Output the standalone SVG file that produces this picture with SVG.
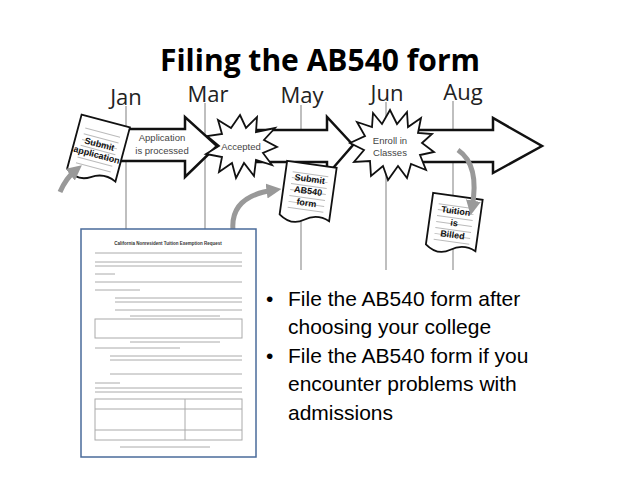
<svg xmlns="http://www.w3.org/2000/svg" width="638" height="479" viewBox="0 0 638 479">
<style>
.m{font-family:"Open Sans","Liberation Sans",sans-serif;font-size:22px;fill:#222}
.vl{stroke:#aaa;stroke-width:1.5}
.ar{fill:#fff;stroke:#111;stroke-width:2.5;stroke-linejoin:miter}
.st{fill:#fff;stroke:#111;stroke-width:1.8}
.lb{font-family:"Liberation Sans",sans-serif;font-size:9.5px;fill:#444;text-anchor:middle}
.dl{stroke:#bbb;stroke-width:1}
.doc{fill:#fff;stroke:#111;stroke-width:1.8}
.dt{font-family:"Liberation Sans",sans-serif;font-weight:bold;font-size:9px;fill:#111;text-anchor:middle}
.ga{fill:none;stroke:#999;stroke-width:5}
.b{font-family:"Liberation Sans",sans-serif;font-size:21px;fill:#000}
.fl{stroke:#aaa;stroke-width:1}
</style>
<defs>
<marker id="h" viewBox="0 0 10 10" refX="5" refY="5" markerWidth="3" markerHeight="3" orient="auto"><path d="M0,0L10,5L0,10z" fill="#999"/></marker>
<g id="lines"><line class="dl" x1="-18" y1="-18" x2="18" y2="-18"/><line class="dl" x1="-18" y1="-12" x2="18" y2="-12"/><line class="dl" x1="-18" y1="-6" x2="18" y2="-6"/><line class="dl" x1="-18" y1="0" x2="18" y2="0"/><line class="dl" x1="-18" y1="6" x2="18" y2="6"/><line class="dl" x1="-18" y1="12" x2="18" y2="12"/><line class="dl" x1="-18" y1="18" x2="18" y2="18"/></g>
</defs>
<rect width="638" height="479" fill="#fff"/>
<text x="320" y="71" text-anchor="middle" font-family="Open Sans,Liberation Sans,sans-serif" font-weight="bold" font-size="30" fill="#000">Filing the AB540 form</text>
<g id="months">
<text class="m" x="126" y="105" text-anchor="middle">Jan</text>
<text class="m" x="208" y="102" text-anchor="middle">Mar</text>
<text class="m" x="302" y="103" text-anchor="middle">May</text>
<text class="m" x="387" y="101" text-anchor="middle">Jun</text>
<text class="m" x="463" y="100" text-anchor="middle">Aug</text>
<line class="vl" x1="126" y1="106" x2="126" y2="230"/>
<line class="vl" x1="205" y1="103" x2="205" y2="230"/>
<line class="vl" x1="301" y1="105" x2="301" y2="270"/>
<line class="vl" x1="386" y1="102" x2="386" y2="270"/>
<line class="vl" x1="453" y1="101" x2="453" y2="270"/>
</g>
<g id="arrows">
<path class="ar" d="M118,129H185V117L217,146L185,177V161H118z"/>
<path class="ar" d="M257,130H327V117L353,145L327,175V162H257z"/>
<path class="ar" d="M417,130H493V118L542,146L493,173V162H417z"/>
<text class="lb" x="162" y="141">Application</text>
<text class="lb" x="162" y="154">is processed</text>
</g>
<g id="accepted">
<path class="st" d="M240,115L246,128L257,117L256,132L275,128L264,140L277,147L263,153L272,165L256,160L254,176L244,163L236,178L232,163L219,172L222,157L206,154L219,146L207,136L222,134L218,120L231,128z"/>
<text class="lb" x="241" y="150">Accepted</text>
</g>
<g id="enroll">
<path class="st" d="M390,110L397,124L407,112L408,127L421,118L418,133L432,134L422,143L434,152L420,155L426,170L411,164L407,178L398,166L388,180L383,166L371,176L370,161L354,162L364,150L350,143L365,136L357,122L372,127L373,113L382,124z"/>
<text class="lb" x="390" y="144">Enroll in</text>
<text class="lb" x="390" y="156">Classes</text>
</g>
<g id="doc1" transform="translate(98,150) rotate(15)">
<path class="doc" d="M-25,-30H25V26Q12,20 0,28T-25,26z"/>
<use href="#lines"/>
<text class="dt" y="-3">Submit</text><text class="dt" y="8" font-size="8">application</text>
</g>
<g id="doc2" transform="translate(308,192) rotate(8)">
<path class="doc" d="M-25,-28H25V26Q12,20 0,28T-25,26z"/>
<use href="#lines"/>
<text class="dt" y="-10">Submit</text><text class="dt" y="2">AB540</text><text class="dt" y="14">form</text>
</g>
<g id="doc3" transform="translate(454,224) rotate(8)">
<path class="doc" d="M-25,-28H25V24Q12,18 0,26T-25,24z"/>
<use href="#lines"/>
<text class="dt" y="-10">Tuition</text><text class="dt" y="2">is</text><text class="dt" y="14">Billed</text>
</g>
<g id="connectors">
<path class="ga" d="M60,192Q66,178 76,170" marker-end="url(#h)"/>
<path class="ga" d="M233,230Q230,196 274,190" marker-end="url(#h)"/>
<path class="ga" d="M458,150Q480,165 472,208" marker-end="url(#h)"/>
</g>
<g id="form">
<rect x="81" y="229" width="175" height="228" fill="#fff" stroke="#4a6b9a" stroke-width="1.5"/>
<text x="168" y="245" text-anchor="middle" font-family="Liberation Sans,sans-serif" font-weight="bold" font-size="4.5" fill="#333">California Nonresident Tuition Exemption Request</text>
<g class="fl">
<line x1="95" y1="253" x2="242" y2="253"/><line x1="95" y1="262" x2="242" y2="262"/><line x1="95" y1="266" x2="242" y2="266"/>
<line x1="95" y1="274" x2="115" y2="274"/><line x1="95" y1="282" x2="242" y2="282"/><line x1="95" y1="290" x2="140" y2="290"/>
<line x1="115" y1="298" x2="242" y2="298"/><line x1="115" y1="302" x2="242" y2="302"/><line x1="115" y1="310" x2="242" y2="310"/>
<line x1="130" y1="316" x2="220" y2="316"/>
<rect x="95" y="319" width="147" height="19" fill="none"/>
<line x1="130" y1="342" x2="220" y2="342"/><line x1="95" y1="348" x2="180" y2="348"/>
<line x1="110" y1="356" x2="242" y2="356"/><line x1="110" y1="360" x2="242" y2="360"/><line x1="110" y1="374" x2="242" y2="374"/>
<line x1="95" y1="383" x2="120" y2="383"/><line x1="95" y1="388" x2="242" y2="388"/><line x1="95" y1="392" x2="242" y2="392"/>
<rect x="95" y="399" width="147" height="41" fill="none"/>
<line x1="95" y1="409" x2="242" y2="409"/><line x1="95" y1="430" x2="242" y2="430"/><line x1="185" y1="399" x2="185" y2="440"/>
<line x1="120" y1="447" x2="210" y2="447"/>
</g>
</g>
<g id="bullets">
<text class="b" x="266" y="306">•</text>
<text class="b" x="288" y="306">File the AB540 form after</text>
<text class="b" x="288" y="334">choosing your college</text>
<text class="b" x="266" y="363">•</text>
<text class="b" x="288" y="363">File the AB540 form if you</text>
<text class="b" x="288" y="391">encounter problems with</text>
<text class="b" x="288" y="420">admissions</text>
</g>
</svg>
